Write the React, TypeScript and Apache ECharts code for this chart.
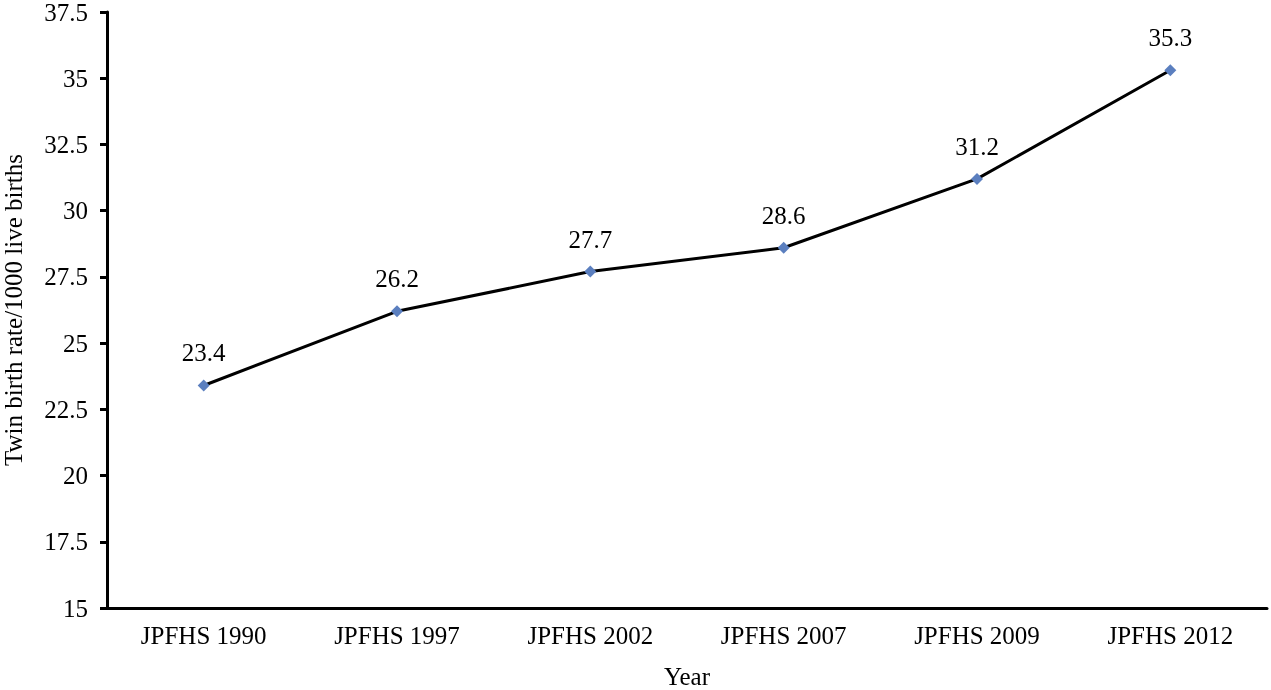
import { useEffect, useRef } from "react";
import * as echarts from "echarts";

const surveys = ["JPFHS 1990", "JPFHS 1997", "JPFHS 2002", "JPFHS 2007", "JPFHS 2009", "JPFHS 2012"];
const twinRates = [23.4, 26.2, 27.7, 28.6, 31.2, 35.3];

const FONT = "'Liberation Serif', 'Times New Roman', serif";
const SIZE = 25;

export default function App() {
  const ref = useRef<HTMLDivElement | null>(null);

  useEffect(() => {
    if (!ref.current) return;
    const chart = echarts.init(ref.current, undefined, { renderer: "svg" });
    chart.setOption({
      animation: false,
      textStyle: { fontFamily: FONT },
      grid: { left: 107, right: 4, top: 12, bottom: 82, outerBoundsMode: "none", containLabel: false },
      xAxis: [
        {
          type: "category",
          data: surveys,
          boundaryGap: true,
          name: "Year",
          nameLocation: "middle",
          nameGap: 56,
          nameTextStyle: { fontFamily: FONT, fontSize: SIZE, color: "#000" },
          axisLine: { lineStyle: { color: "#000", width: 3 } },
          axisTick: { inside: true, length: 7, lineStyle: { color: "#000", width: 3 } },
          axisLabel: { fontFamily: FONT, fontSize: SIZE, color: "#000", margin: 15 }
        },
        {
          // short ticks under each point
          type: "category",
          data: surveys,
          position: "bottom",
          boundaryGap: true,
          axisLine: { show: false },
          axisTick: { inside: true, alignWithLabel: true, length: 4, lineStyle: { color: "#000", width: 3 } },
          axisLabel: { show: false }
        }
      ],
      yAxis: {
        type: "value",
        min: 15,
        max: 37.5,
        interval: 2.5,
        name: "Twin birth rate/1000 live births",
        nameLocation: "middle",
        nameGap: 81,
        nameTextStyle: { fontFamily: FONT, fontSize: SIZE, color: "#000" },
        axisLine: { show: true, lineStyle: { color: "#000", width: 3 } },
        axisTick: { show: true, length: 7, lineStyle: { color: "#000", width: 3 } },
        axisLabel: { fontFamily: FONT, fontSize: SIZE, color: "#000", margin: 19 },
        splitLine: { show: false }
      },
      series: [
        {
          type: "line",
          data: twinRates,
          symbol: "diamond",
          symbolSize: 12,
          itemStyle: { color: "#5b7fbf" },
          lineStyle: { color: "#000", width: 3 },
          label: {
            show: true,
            position: "top",
            distance: 14,
            fontFamily: FONT,
            fontSize: SIZE,
            color: "#000"
          }
        }
      ]
    });
    return () => chart.dispose();
  }, []);

  return <div ref={ref} style={{ position: "fixed", left: 0, top: 0, width: 1271, height: 690 }} />;
}
